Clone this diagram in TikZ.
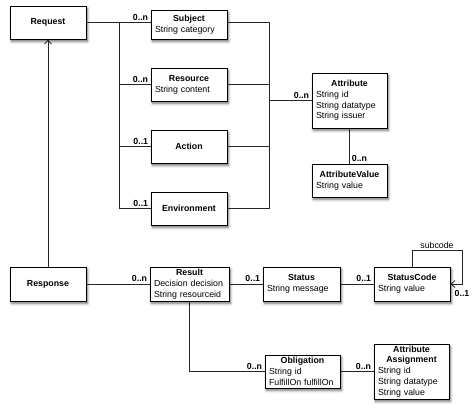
\documentclass[tikz,border=0pt]{standalone}
\usepackage{fontspec}
\setmainfont{Liberation Sans}
\usepackage{tikz}
\usetikzlibrary{shapes,arrows.meta,positioning,shadows.blur,calc}

\newcommand{\cls}[2]{{\centering\textbf{#1}\par}#2}

\begin{document}
\begin{tikzpicture}[x=1pt, y=-1pt, >={Straight Barb[length=4pt,width=7pt]}]
  \tikzset{font=\fontsize{8.8}{10.8}\selectfont}
  \tikzset{box/.style = {shape=rectangle, draw, line width=1pt, fill=white,
      minimum width=76pt, minimum height=33pt, text width=68pt, align=left,
      inner xsep=4pt, inner ysep=1pt,
      blur shadow={shadow xshift=1.5pt, shadow yshift=-2.5pt, shadow blur radius=2.5pt,
        shadow blur steps=6, shadow opacity=55}}}
  \tikzset{mult/.style = {font=\fontsize{8.8}{10}\selectfont\bfseries, inner sep=2pt}}
  \tikzset{link/.style = {draw=black!85, line width=0.8pt}}

  \useasboundingbox (0,0) rectangle (474,413);

  % request side
  \node[box] (req) at (48,22.5) {\cls{Request}{}};
  \node[box, minimum height=29pt] (subj) at (189,24.5) {\cls{Subject}{String category}};
  \node[box] (res) at (189,84.5) {\cls{Resource}{String content}};
  \node[box] (act) at (189,146.5) {\cls{Action}{}};
  \node[box] (env) at (189,208.5) {\cls{Environment}{}};
  \node[box, minimum width=75pt, text width=67pt, minimum height=55pt] (attr) at (349.5,100.5)
    {\cls{Attribute}{String id\\String datatype\\String issuer}};
  \node[box, minimum width=75pt, text width=67pt] (attrval) at (349.5,180.5)
    {\cls{AttributeValue}{String value}};

  % response side
  \node[box, minimum height=34pt] (resp) at (48,284) {\cls{Response}{}};
  \node[box, minimum width=79pt, text width=71pt, minimum height=34pt] (result) at (189.5,284)
    {\cls{Result}{Decision decision\\String resourceid}};
  \node[box, minimum width=77pt, text width=69pt, minimum height=34pt] (status) at (301.5,284)
    {\cls{Status}{String message}};
  \node[box, minimum height=34pt] (code) at (412,284) {\cls{StatusCode}{String value}};
  \node[box, minimum width=75pt, text width=67pt] (oblig) at (302.5,371.5)
    {\cls{Obligation}{String id\\FulfillOn fulfillOn}};
  \node[box, minimum width=75pt, text width=67pt, minimum height=55pt] (assign) at (411.5,371.5)
    {\cls{Attribute\\Assignment}{String id\\String datatype\\String value}};

  % buses
  \coordinate (lbus) at (119,0);
  \coordinate (rbus) at (269,0);

  \draw[link] (req.east) -- node[mult, pos=1, above left] {0..n} (req.east -| subj.west);
  \draw[link] (lbus |- req.east) |- node[mult, pos=1, above left] {0..1} (env.west);
  \draw[link] (subj.east |- req.east) -- (rbus |- req.east) |- (env.east);

  \path[every edge/.style={link}]
    (lbus |- res.west) edge node[mult, pos=1, above left] {0..n} (res.west)
    (lbus |- act.west) edge node[mult, pos=1, above left] {0..1} (act.west)
    (res.east) edge (rbus |- res.east)
    (act.east) edge (rbus |- act.east)
    (rbus |- attr.west) edge node[mult, pos=1, above left] {0..n} (attr.west)
    (attr) edge node[mult, pos=1, above right] {0..n} (attrval)
    (resp) edge node[mult, pos=1, above left] {0..n} (result)
    (result) edge node[mult, pos=1, above left] {0..1} (status)
    (status) edge node[mult, pos=1, above left] {0..1} (code)
    (oblig) edge node[mult, pos=1, above left] {0..n} (assign);

  \draw[link, ->] (resp) -- (req);
  \draw[link] (result) |- node[mult, pos=1, above left] {0..n} (oblig);
  \draw[link, ->] (code.north) -- ++(0,-16) -- node[above, inner sep=2pt] {subcode} ++(50,0)
    |- node[mult, pos=0.5, below=4pt] {0..1} (code.east);
\end{tikzpicture}
\end{document}
